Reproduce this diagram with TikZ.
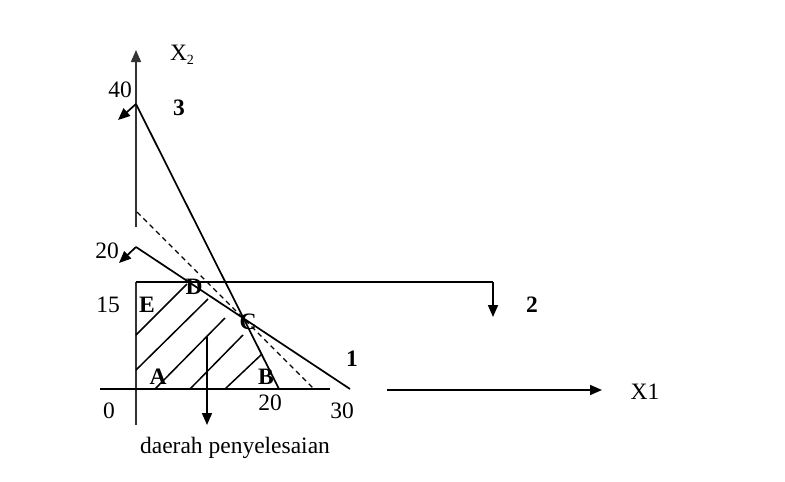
\documentclass[tikz,border=0pt]{standalone}
\usepackage{fontspec}
\setmainfont{Liberation Serif}
\usetikzlibrary{arrows.meta}
\begin{document}
\begin{tikzpicture}[x=1pt,y=-1pt,
  ln/.style={line width=1.7pt,black},
  ax/.style={line width=1.5pt,black!80},
  tip/.style={-{Triangle[length=12pt,width=10pt]}},
  lbl/.style={font=\fontsize{23.5}{26}\selectfont,inner sep=0pt},
  blbl/.style={font=\fontsize{23.5}{26}\selectfont\bfseries,inner sep=0pt},
  hatch/.style={line width=1.5pt,black}]
\useasboundingbox (0,0) rectangle (785,482);
% coordinates
\coordinate (ytop) at (136,50);
\coordinate (yu) at (136,227);
\coordinate (yl) at (136,282);
\coordinate (ybot) at (136,425);
\coordinate (xl) at (100,389);
\coordinate (xr) at (330,389);
\coordinate (x2l) at (387,390);
\coordinate (x2r) at (602,390);
\coordinate (p3a) at (136,104);
\coordinate (p3t) at (118,120);
\coordinate (p3b) at (279,389);
\coordinate (p1a) at (136,247);
\coordinate (p1t) at (119,263);
\coordinate (p1b) at (350,389);
\coordinate (pda) at (137,212);
\coordinate (pdb) at (314,389);
\coordinate (h2a) at (136,282);
\coordinate (h2b) at (493,282);
\coordinate (h2t) at (493,317);
\coordinate (dra) at (207,337);
\coordinate (drb) at (207,425);
% axes
\draw[ax,tip] (yu) -- (ytop);
\draw[ax] (ybot) -- (yl);
\draw[ln] (xl) -- (xr);
\draw[ln,tip] (x2l) -- (x2r);
% constraint lines
\draw[ln] (p3a) -- (p3b);
\draw[ln,tip] (p3a) -- (p3t);
\draw[ln] (p1a) -- (p1b);
\draw[ln,tip] (p1a) -- (p1t);
\draw[line width=1.3pt,dash pattern=on 5pt off 4pt] (pda) -- (pdb);
\draw[ln] (h2a) -- (h2b);
\draw[ln,tip] (h2b) -- (h2t);
% hatching
\coordinate (ha1) at (136,335); \coordinate (hb1) at (187,284);
\coordinate (ha2) at (136,370); \coordinate (hb2) at (208,299);
\coordinate (ha3) at (155,389); \coordinate (hb3) at (225,318);
\coordinate (ha4) at (190,389); \coordinate (hb4) at (243,335);
\coordinate (ha5) at (225,389); \coordinate (hb5) at (262,354);
\foreach \i in {1,...,5} {\draw[hatch] (ha\i) -- (hb\i);}
\draw[ln,tip] (dra) -- (drb);
% labels
\node[lbl] (lx2) at (182,55) {X\raisebox{-0.35ex}{\fontsize{14}{14}\selectfont 2}};
\node[lbl] (l40) at (120,90) {40};
\node[blbl] (l3) at (179,108) {3};
\node[lbl] (l20y) at (107,251) {20};
\node[lbl] (l15) at (108,305) {15};
\node[blbl] (lE) at (147,305) {E};
\node[blbl] (lD) at (194,287) {D};
\node[blbl] (lC) at (248,322) {C};
\node[blbl] (lA) at (158,377) {A};
\node[blbl] (lB) at (266,377) {B};
\node[blbl] (l1) at (352,359) {1};
\node[blbl] (l2) at (532,305) {2};
\node[lbl] (l0) at (109,411) {0};
\node[lbl] (l20x) at (270,403) {20};
\node[lbl] (l30) at (342,411) {30};
\node[lbl] (lX1) at (645,392) {X1};
\node[lbl] (ldp) at (235,448) {daerah penyelesaian};
\end{tikzpicture}
\end{document}
